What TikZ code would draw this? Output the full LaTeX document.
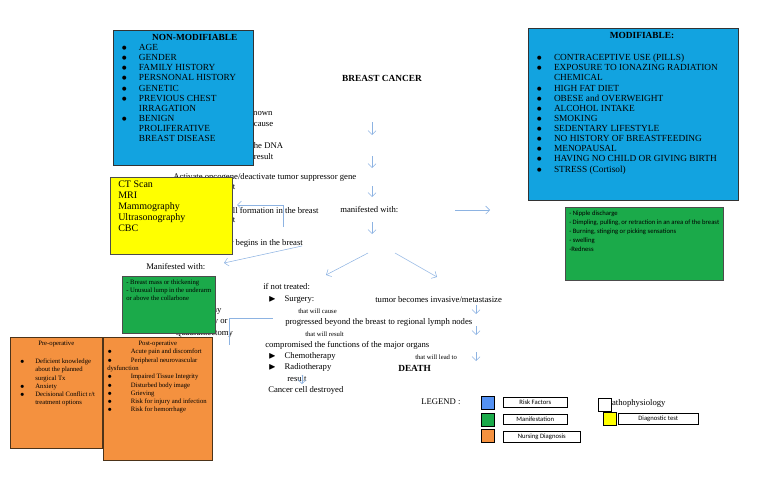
\documentclass[tikz,border=0pt]{standalone}
\usepackage{amssymb}
\usepackage{array}
\usepackage{fontspec}
\setmainfont{Liberation Serif}
\newfontfamily\boxfont{Carlito}
\usetikzlibrary{positioning, arrows.meta}
\definecolor{riskblue}{HTML}{12A3E0}
\definecolor{maniGreen}{HTML}{1BAA4A}
\definecolor{diagYellow}{HTML}{FFFF00}
\definecolor{nursOrange}{HTML}{F4913F}
\definecolor{flowblue}{HTML}{8DB3E2}
% fixed-size box content, top aligned (width and height in px)
\newcommand{\boxtext}[3]{\parbox[c][\dimexpr#2pt*3/4-6pt\relax][t]{\dimexpr#1pt*3/4-6pt\relax}{\raggedright#3}}
\newcolumntype{P}[1]{>{\raggedright\arraybackslash}p{#1}}
\begin{document}
\begin{tikzpicture}[x=0.75pt, y=-0.75pt,
every node/.style={font=\fontsize{6.5}{7.5}\selectfont, inner sep=0pt},
txt/.style={anchor=west},
boxstyle/.style={draw=black!70, anchor=north west, align=left, inner sep=3pt},
risk/.style={boxstyle, fill=riskblue, draw=black!80, thick},
mani/.style={boxstyle, fill=maniGreen},
diag/.style={boxstyle, fill=diagYellow},
nurs/.style={boxstyle, fill=nursOrange, draw=black!60!brown},
flow/.style={->, flowblue, thin, >={Straight Barb[length=3pt,width=6pt]}},
legbox/.style={draw, anchor=west, inner sep=2pt, font=\boxfont\fontsize{5}{6}\selectfont},
legsq/.style={draw, minimum size=10pt, anchor=north west}
]
\useasboundingbox (0,0) rectangle (768,489);
% Title and pathophysiology flow
\node[font=\fontsize{7}{8}\selectfont\bfseries] (title) at (382,78) {BREAST CANCER};
\node[txt] (p1) at (238,113) {Unknown};
\node[txt] (p1r) at (238,124) {will cause};
\node[txt] (p2) at (205,146) {Mutations in the DNA};
\node[txt] (p2r) at (238,157) {will result};
\node[txt] (p3) at (173,177) {Activate oncogene/deactivate tumor suppressor gene};
\node[txt] (p3r) at (200,187) {will result};
\node[txt] (p4) at (190,210) {abnormal cell formation in the breast};
\node[txt] (p4r) at (200,220) {will result};
\node[txt] (p5) at (210,243) {Tumor begins in the breast};
\node[txt] (mw) at (340,210) {manifested with:};
\node[txt] (mw2) at (146,267) {Manifested with:};
\coordinate (a1) at (372,122); \coordinate (a1e) at (372,135);
\coordinate (a2) at (372,156); \coordinate (a2e) at (372,168);
\coordinate (a3) at (372,186); \coordinate (a3e) at (372,197);
\coordinate (a4) at (372,222); \coordinate (a4e) at (372,234);
\draw[flow] (a1) -- (a1e);
\draw[flow] (a2) -- (a2e);
\draw[flow] (a3) -- (a3e);
\draw[flow] (a4) -- (a4e);
\coordinate (rt) at (455,210); \coordinate (rte) at (490,210);
\draw[flow] (rt) -- (rte);
\coordinate (br) at (283,227);
\draw[flow] (br) -- (283,205) -- (237,205);
\coordinate (tb) at (302,246); \coordinate (tbe) at (224,263);
\draw[flow] (tb) -- (tbe);
\coordinate (dv) at (368,253); \coordinate (dvl) at (326,275);
\coordinate (dw) at (395,253); \coordinate (dvr) at (437,277);
\draw[flow] (dv) -- (dvl);
\draw[flow] (dw) -- (dvr);
% treatment and progression
\node[txt] (t0) at (263,287) {if not treated:};
\node[txt] (t1) at (268,300) {$\blacktriangleright$\quad Surgery:};
\node[txt] (t2) at (175,311) {Lumpectomy};
\node[txt] (t3) at (175,322) {Mastectomy or};
\node[txt] (t4) at (175,333) {Quadrantectomy};
\node[txt] (t5) at (140,345) {Lymphadenectomy};
\coordinate (sb) at (229,345);
\draw[flowblue] (sb) -- (229,318) -- (273,318);
\node[txt] (inv) at (375,300) {tumor becomes invasive/metastasize};
\node[txt, font=\fontsize{5}{6}\selectfont] (c1) at (298,311) {that will cause};
\node[txt] (c2) at (285,322) {progressed beyond the breast to regional lymph nodes};
\node[txt, font=\fontsize{5}{6}\selectfont] (c3) at (305,334) {that will result};
\node[txt] (c4) at (265,345) {compromised the functions of the major organs};
\node[txt] (t6) at (268,356) {$\blacktriangleright$\quad Chemotherapy};
\node[txt] (t7) at (268,367) {$\blacktriangleright$\quad Radiotherapy};
\node[txt, font=\fontsize{5}{6}\selectfont] (c5) at (415,357) {that will lead to};
\node[txt, font=\fontsize{7}{8}\selectfont\bfseries] (death) at (398,368) {DEATH};
\node[txt] (res) at (287,379) {result};
\node[txt] (ccd) at (268,390) {Cancer cell destroyed};
\coordinate (b1) at (476,305); \coordinate (b1e) at (476,314);
\coordinate (b2) at (476,326); \coordinate (b2e) at (476,335);
\coordinate (b3) at (476,352); \coordinate (b3e) at (476,361);
\coordinate (b4) at (302,375); \coordinate (b4e) at (302,384);
\draw[flow] (b1) -- (b1e);
\draw[flow] (b2) -- (b2e);
\draw[flow] (b3) -- (b3e);
\draw[flow] (b4) -- (b4e);
% risk factors
\node[risk, font=\fontsize{7}{7.6}\selectfont] (nonmod) at (113,30) {\boxtext{140}{135}{%
\hspace*{26pt}\textbf{NON-MODIFIABLE}\\[1pt]
\begin{tabular}{@{\hspace{3pt}}l@{\hspace{9pt}}P{80pt}@{}}
$\bullet$ & AGE\\ $\bullet$ & GENDER\\ $\bullet$ & FAMILY HISTORY\\ $\bullet$ & PERSNONAL HISTORY\\
$\bullet$ & GENETIC\\ $\bullet$ & PREVIOUS CHEST IRRAGATION\\ $\bullet$ & BENIGN PROLIFERATIVE BREAST DISEASE
\end{tabular}}};
\node[risk, font=\fontsize{7}{7.6}\selectfont] (mod) at (528,28) {\boxtext{210}{172}{%
\hspace*{58pt}\textbf{MODIFIABLE:}\\[10pt]
\begin{tabular}{@{\hspace{3pt}}l@{\hspace{9pt}}P{135pt}@{}}
$\bullet$ & CONTRACEPTIVE USE (PILLS)\\ $\bullet$ & EXPOSURE TO IONAZING RADIATION CHEMICAL\\
$\bullet$ & HIGH FAT DIET\\ $\bullet$ & OBESE and OVERWEIGHT\\ $\bullet$ & ALCOHOL INTAKE\\
$\bullet$ & SMOKING\\ $\bullet$ & SEDENTARY LIFESTYLE\\ $\bullet$ & NO HISTORY OF BREASTFEEDING\\
$\bullet$ & MENOPAUSAL\\ $\bullet$ & HAVING NO CHILD OR GIVING BIRTH\\ $\bullet$ & STRESS (Cortisol)
\end{tabular}}};
% diagnostic test
\node[diag, font=\fontsize{7.5}{8.2}\selectfont] (dx) at (110,177) {\boxtext{122}{77}{\hspace*{3pt}CT Scan\\\hspace*{3pt}MRI\\\hspace*{3pt}Mammography\\\hspace*{3pt}Ultrasonography\\\hspace*{3pt}CBC}};
% manifestations
\node[mani, font=\fontsize{5}{5.8}\selectfont] (man1) at (122,276) {\boxtext{93}{57}{- Breast mass or thickening\\- Unusual lump in the underarm or above the collarbone}};
\node[mani, font=\boxfont\fontsize{5}{6.6}\selectfont] (man2) at (565,207) {\boxtext{158}{73}{- Nipple discharge\\- Dimpling, pulling, or retraction in an area of the breast\\- Burning, stinging or picking sensations\\- swelling\\-Redness}};
% nursing diagnosis
\node[nurs, font=\fontsize{5}{6.2}\selectfont] (pre) at (10,337) {\boxtext{92}{111}{\centering Pre-operative\par\vspace{7pt}
\begin{tabular}{@{\hspace{3pt}}l@{\hspace{8pt}}P{46pt}@{}}
$\bullet$ & Deficient knowledge about the planned surgical Tx\\ $\bullet$ & Anxiety\\ $\bullet$ & Decisional Conflict r/t treatment options
\end{tabular}}};
\node[nurs, font=\fontsize{5}{6.2}\selectfont] (post) at (103,337) {\boxtext{109}{123}{\centering Post-operative\par\raggedright
$\bullet$\hspace{14pt}Acute pain and discomfort\\
$\bullet$\hspace{14pt}Peripheral neurovascular dysfunction\\
$\bullet$\hspace{14pt}Impaired Tissue Integrity\\
$\bullet$\hspace{14pt}Disturbed body image\\
$\bullet$\hspace{14pt}Grieving\\
$\bullet$\hspace{14pt}Risk for injury and infection\\
$\bullet$\hspace{14pt}Risk for hemorrhage}};
% legend
\node[txt] (leg) at (421,402) {LEGEND :};
\node[legsq, fill=riskblue!60!blue!70] (lrisk) at (481,396) {};
\node[legsq, fill=maniGreen] (lmani) at (481,413) {};
\node[legsq, fill=nursOrange] (lnurs) at (481,429) {};
\node[legbox, minimum width=64pt*0.75, align=left] (trisk) at (503,402) {Risk Factors\hfill};
\node[legbox, minimum width=64pt*0.75] (tmani) at (503,419) {Manifestation\hfill};
\node[legbox, minimum width=77pt*0.75] (tnurs) at (503,437) {Nursing Diagnosis\hfill};
\node[txt] (tpath) at (607,403) {Pathophysiology};
\node[legsq, fill=white] (lpath) at (598,398) {};
\node[legsq, fill=diagYellow] (ldiag) at (603,412) {};
\node[legbox, minimum width=80pt*0.75] (tdiag) at (618,419) {Diagnostic test\hfill};
\end{tikzpicture}
\end{document}
